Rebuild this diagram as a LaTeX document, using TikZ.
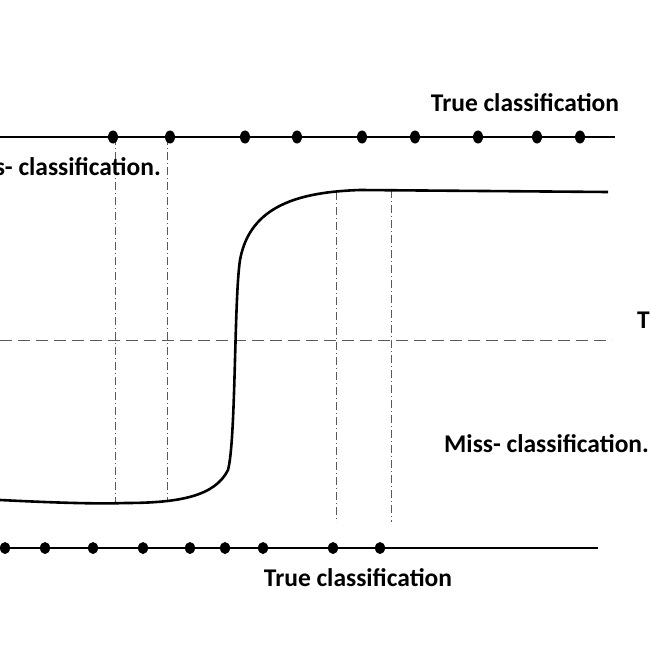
\documentclass[tikz,border=0pt]{standalone}
\usepackage{fontspec}
\setmainfont{Carlito}
\begin{document}
\begin{tikzpicture}[x=1pt,y=-1pt,
  axisline/.style={line width=2.6pt},
  curveline/.style={line width=2.6pt},
  guide/.style={gray!70!black,line width=0.7pt,dash pattern=on 8pt off 3pt on 1pt off 3pt},
  hguide/.style={gray!70!black,line width=0.7pt,dash pattern=on 12pt off 6pt},
  lbl/.style={font=\bfseries\fontsize{25.5}{30}\selectfont,inner sep=0pt}]
\useasboundingbox (0,0) rectangle (650,650);
\clip (0,0) rectangle (650,650);
% guides
\draw[hguide] (0,340) -- (612,340);
\draw[guide] (115,137) -- (115,503);
\draw[guide] (167,137) -- (167,500);
\draw[guide] (336,192) -- (336,522);
\draw[guide] (391,190) -- (391,522);
% axes
\draw[axisline] (0,137) coordinate (ta) -- (615,137) coordinate (tb);
\draw[axisline] (0,548) coordinate (ba) -- (598,548) coordinate (bb);
\foreach \x in {113,170,245,297,362,415,478,537,580}
  \fill (\x,137) ellipse (5pt and 6.5pt);
\foreach \x in {5,45,93,143,190,225,263,333,380}
  \fill (\x,548) ellipse (5pt and 6pt);
% curve
\draw[curveline] (0,500) .. controls (60,503) and (100,504) .. (125,503)
  .. controls (180,503) and (215,496) .. (228,470)
  .. controls (236,440) and (234,300) .. (240,260)
  .. controls (250,205) and (300,192) .. (360,190)
  -- (608,192);
% labels
\node[lbl] (t1) at (525,103) {True classification};
\node[lbl,anchor=east] (m1) at (161,167) {Miss- classification.};
\node[lbl,anchor=west] (m2) at (444,444) {Miss- classification.};
\node[lbl] (t2) at (358,578) {True classification};
\node[lbl,anchor=west] (T) at (637,320) {T};
\end{tikzpicture}
\end{document}
